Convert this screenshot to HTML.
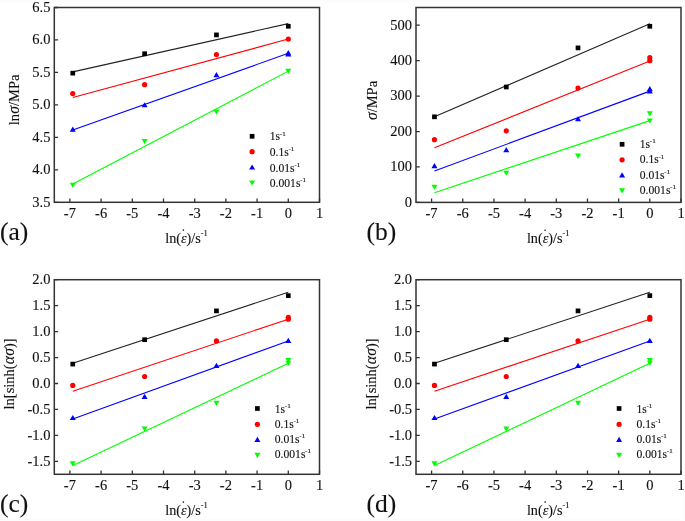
<!DOCTYPE html>
<html><head><meta charset="utf-8"><style>
html,body{margin:0;padding:0;background:#fff;}
svg{display:block;}
text{font-family:"Liberation Serif", serif;fill:#111;stroke:#111;stroke-width:0.12px;}
.t{font-size:14.5px;}
.l{font-size:11.6px;}
.sup{font-size:7px;}
.sup2{font-size:8.5px;}
.x{font-size:14.2px;}
.p{font-size:25.5px;}
.gk{font-style:italic;font-size:15.8px;}
</style></head><body>
<svg width="685" height="521" viewBox="0 0 685 521">
<rect width="685" height="521" fill="#fff"/>
<rect width="685" height="2" fill="#fcfcfc"/><rect y="519" width="685" height="2" fill="#fcfcfc"/><rect x="683" width="2" height="521" fill="#fcfcfc"/>
<line x1="72.77" y1="71.91" x2="288.3" y2="23.6" stroke="#222" stroke-width="1.1"/>
<line x1="72.77" y1="97.43" x2="288.3" y2="39.06" stroke="#ff0000" stroke-width="1.1"/>
<line x1="72.77" y1="129.9" x2="288.3" y2="53.34" stroke="#0000ff" stroke-width="1.1"/>
<line x1="72.77" y1="183.99" x2="288.3" y2="71.13" stroke="#00ff00" stroke-width="1.1"/>
<rect x="70.42" y="70.8" width="4.7" height="4.7" fill="#000000"/>
<rect x="142.27" y="51.38" width="4.7" height="4.7" fill="#000000"/>
<rect x="214.1" y="32.55" width="4.7" height="4.7" fill="#000000"/>
<rect x="285.95" y="23.92" width="4.7" height="4.7" fill="#000000"/>
<circle cx="72.77" cy="93.6" r="2.6" fill="#ff0000"/>
<circle cx="144.62" cy="84.71" r="2.6" fill="#ff0000"/>
<circle cx="216.45" cy="54.58" r="2.6" fill="#ff0000"/>
<circle cx="288.3" cy="39.06" r="2.6" fill="#ff0000"/>
<polygon points="72.77,126.46 75.77,131.66 69.77,131.66" fill="#0000ff"/>
<polygon points="144.62,102.17 147.62,107.37 141.62,107.37" fill="#0000ff"/>
<polygon points="216.45,72.04 219.45,77.24 213.45,77.24" fill="#0000ff"/>
<polygon points="288.3,49.96 291.3,55.16 285.3,55.16" fill="#0000ff"/>
<polygon points="288.3,51.33 291.3,56.53 285.3,56.53" fill="#0000ff"/>
<polygon points="69.77,182.82 75.77,182.82 72.77,188.02" fill="#00ff00"/>
<polygon points="141.62,139.12 147.62,139.12 144.62,144.32" fill="#00ff00"/>
<polygon points="213.45,109.44 219.45,109.44 216.45,114.64" fill="#00ff00"/>
<polygon points="285.3,68.86 291.3,68.86 288.3,74.06" fill="#00ff00"/>
<rect x="54.3" y="7.5" width="265.2" height="194.8" fill="none" stroke="#333" stroke-width="1.5"/>
<path d="M69.9 202.3V198.5M101.1 202.3V198.5M132.3 202.3V198.5M163.5 202.3V198.5M194.7 202.3V198.5M225.9 202.3V198.5M257.1 202.3V198.5M288.3 202.3V198.5M319.5 202.3V198.5M54.3 202.3H58.1M54.3 169.83H58.1M54.3 137.37H58.1M54.3 104.9H58.1M54.3 72.43H58.1M54.3 39.97H58.1M54.3 7.5H58.1" stroke="#333" stroke-width="1.3" fill="none"/>
<text x="69.9" y="217.7" text-anchor="middle" class="t">-7</text>
<text x="101.1" y="217.7" text-anchor="middle" class="t">-6</text>
<text x="132.3" y="217.7" text-anchor="middle" class="t">-5</text>
<text x="163.5" y="217.7" text-anchor="middle" class="t">-4</text>
<text x="194.7" y="217.7" text-anchor="middle" class="t">-3</text>
<text x="225.9" y="217.7" text-anchor="middle" class="t">-2</text>
<text x="257.1" y="217.7" text-anchor="middle" class="t">-1</text>
<text x="288.3" y="217.7" text-anchor="middle" class="t">0</text>
<text x="319.5" y="217.7" text-anchor="middle" class="t">1</text>
<text x="50.4" y="206.7" text-anchor="end" class="t">3.5</text>
<text x="50.4" y="174.23" text-anchor="end" class="t">4.0</text>
<text x="50.4" y="141.77" text-anchor="end" class="t">4.5</text>
<text x="50.4" y="109.3" text-anchor="end" class="t">5.0</text>
<text x="50.4" y="76.83" text-anchor="end" class="t">5.5</text>
<text x="50.4" y="44.37" text-anchor="end" class="t">6.0</text>
<text x="50.4" y="11.9" text-anchor="end" class="t">6.5</text>
<rect x="249.75" y="133.95" width="4.7" height="4.7" fill="#000000"/>
<text x="269.8" y="140.4" class="l">1s<tspan class="sup" dx="-0.3" dy="-4.8">-1</tspan></text>
<circle cx="252.1" cy="151.7" r="2.6" fill="#ff0000"/>
<text x="269.8" y="156" class="l">0.1s<tspan class="sup" dx="-0.3" dy="-4.8">-1</tspan></text>
<polygon points="252.1,164.4 255.1,169.6 249.1,169.6" fill="#0000ff"/>
<text x="269.8" y="171.7" class="l">0.01s<tspan class="sup" dx="-0.3" dy="-4.8">-1</tspan></text>
<polygon points="249.1,180.4 255.1,180.4 252.1,185.6" fill="#00ff00"/>
<text x="269.8" y="186.5" class="l">0.001s<tspan class="sup" dx="-0.3" dy="-4.8">-1</tspan></text>
<text x="165.2" y="242.5" class="x">ln(<tspan font-style="italic">ε</tspan>)/s<tspan class="sup2" dy="-6.3">-1</tspan></text>
<circle cx="183.4" cy="230.1" r="0.8" fill="#111"/>
<text x="0" y="239.9" class="p">(a)</text>
<line x1="434.46" y1="116.82" x2="649.82" y2="23.8" stroke="#222" stroke-width="1.1"/>
<line x1="434.46" y1="147.83" x2="649.82" y2="61.01" stroke="#ff0000" stroke-width="1.1"/>
<line x1="434.46" y1="170.97" x2="649.82" y2="91.13" stroke="#0000ff" stroke-width="1.1"/>
<line x1="434.46" y1="192.69" x2="649.82" y2="120.61" stroke="#00ff00" stroke-width="1.1"/>
<rect x="432.11" y="114.47" width="4.7" height="4.7" fill="#000000"/>
<rect x="503.91" y="84.63" width="4.7" height="4.7" fill="#000000"/>
<rect x="575.67" y="45.55" width="4.7" height="4.7" fill="#000000"/>
<rect x="647.47" y="23.93" width="4.7" height="4.7" fill="#000000"/>
<circle cx="434.46" cy="139.68" r="2.6" fill="#ff0000"/>
<circle cx="506.26" cy="130.82" r="2.6" fill="#ff0000"/>
<circle cx="578.02" cy="88.08" r="2.6" fill="#ff0000"/>
<circle cx="649.82" cy="57.57" r="2.6" fill="#ff0000"/>
<circle cx="649.82" cy="60.65" r="2.6" fill="#ff0000"/>
<polygon points="434.46,162.95 437.46,168.15 431.46,168.15" fill="#0000ff"/>
<polygon points="506.26,147 509.26,152.2 503.26,152.2" fill="#0000ff"/>
<polygon points="578.02,116.17 581.02,121.37 575.02,121.37" fill="#0000ff"/>
<polygon points="649.82,86.05 652.82,91.25 646.82,91.25" fill="#0000ff"/>
<polygon points="649.82,88.28 652.82,93.48 646.82,93.48" fill="#0000ff"/>
<polygon points="431.46,184.7 437.46,184.7 434.46,189.9" fill="#00ff00"/>
<polygon points="503.26,170.64 509.26,170.64 506.26,175.84" fill="#00ff00"/>
<polygon points="575.02,153.56 581.02,153.56 578.02,158.76" fill="#00ff00"/>
<polygon points="646.82,111.21 652.82,111.21 649.82,116.41" fill="#00ff00"/>
<polygon points="646.82,118.44 652.82,118.44 649.82,123.64" fill="#00ff00"/>
<rect x="416" y="7.5" width="265" height="194.9" fill="none" stroke="#333" stroke-width="1.5"/>
<path d="M431.59 202.4V198.6M462.76 202.4V198.6M493.94 202.4V198.6M525.12 202.4V198.6M556.29 202.4V198.6M587.47 202.4V198.6M618.65 202.4V198.6M649.82 202.4V198.6M681 202.4V198.6M416 202.4H419.8M416 166.96H419.8M416 131.53H419.8M416 96.09H419.8M416 60.65H419.8M416 25.22H419.8" stroke="#333" stroke-width="1.3" fill="none"/>
<text x="431.59" y="217.8" text-anchor="middle" class="t">-7</text>
<text x="462.76" y="217.8" text-anchor="middle" class="t">-6</text>
<text x="493.94" y="217.8" text-anchor="middle" class="t">-5</text>
<text x="525.12" y="217.8" text-anchor="middle" class="t">-4</text>
<text x="556.29" y="217.8" text-anchor="middle" class="t">-3</text>
<text x="587.47" y="217.8" text-anchor="middle" class="t">-2</text>
<text x="618.65" y="217.8" text-anchor="middle" class="t">-1</text>
<text x="649.82" y="217.8" text-anchor="middle" class="t">0</text>
<text x="681" y="217.8" text-anchor="middle" class="t">1</text>
<text x="412.1" y="206.8" text-anchor="end" class="t">0</text>
<text x="412.1" y="171.36" text-anchor="end" class="t">100</text>
<text x="412.1" y="135.93" text-anchor="end" class="t">200</text>
<text x="412.1" y="100.49" text-anchor="end" class="t">300</text>
<text x="412.1" y="65.05" text-anchor="end" class="t">400</text>
<text x="412.1" y="29.62" text-anchor="end" class="t">500</text>
<rect x="619.75" y="141.95" width="4.7" height="4.7" fill="#000000"/>
<text x="639.8" y="148.1" class="l">1s<tspan class="sup" dx="-0.3" dy="-4.8">-1</tspan></text>
<circle cx="622.1" cy="159.8" r="2.6" fill="#ff0000"/>
<text x="639.8" y="163.3" class="l">0.1s<tspan class="sup" dx="-0.3" dy="-4.8">-1</tspan></text>
<polygon points="622.1,172.2 625.1,177.4 619.1,177.4" fill="#0000ff"/>
<text x="639.8" y="179" class="l">0.01s<tspan class="sup" dx="-0.3" dy="-4.8">-1</tspan></text>
<polygon points="619.1,188.3 625.1,188.3 622.1,193.5" fill="#00ff00"/>
<text x="639.8" y="193.8" class="l">0.001s<tspan class="sup" dx="-0.3" dy="-4.8">-1</tspan></text>
<text x="526.9" y="242.6" class="x">ln(<tspan font-style="italic">ε</tspan>)/s<tspan class="sup2" dy="-6.3">-1</tspan></text>
<circle cx="545.1" cy="230.2" r="0.8" fill="#111"/>
<text x="366.4" y="239.6" class="p">(b)</text>
<line x1="72.77" y1="363.3" x2="288.3" y2="292.21" stroke="#222" stroke-width="1.1"/>
<line x1="72.77" y1="391.17" x2="288.3" y2="319.19" stroke="#ff0000" stroke-width="1.1"/>
<line x1="72.77" y1="418.98" x2="288.3" y2="340.93" stroke="#0000ff" stroke-width="1.1"/>
<line x1="72.77" y1="465.48" x2="288.3" y2="363.3" stroke="#00ff00" stroke-width="1.1"/>
<rect x="70.42" y="361.73" width="4.7" height="4.7" fill="#000000"/>
<rect x="142.27" y="337.34" width="4.7" height="4.7" fill="#000000"/>
<rect x="214.1" y="308.54" width="4.7" height="4.7" fill="#000000"/>
<rect x="285.95" y="293.28" width="4.7" height="4.7" fill="#000000"/>
<circle cx="72.77" cy="385.41" r="2.6" fill="#ff0000"/>
<circle cx="144.62" cy="376.48" r="2.6" fill="#ff0000"/>
<circle cx="216.45" cy="340.93" r="2.6" fill="#ff0000"/>
<circle cx="288.3" cy="317.32" r="2.6" fill="#ff0000"/>
<circle cx="288.3" cy="319.19" r="2.6" fill="#ff0000"/>
<polygon points="72.77,414.88 75.77,420.08 69.77,420.08" fill="#0000ff"/>
<polygon points="144.62,393.7 147.62,398.9 141.62,398.9" fill="#0000ff"/>
<polygon points="216.45,362.72 219.45,367.92 213.45,367.92" fill="#0000ff"/>
<polygon points="288.3,337.82 291.3,343.02 285.3,343.02" fill="#0000ff"/>
<polygon points="69.77,461.32 75.77,461.32 72.77,466.52" fill="#00ff00"/>
<polygon points="141.62,426.45 147.62,426.45 144.62,431.65" fill="#00ff00"/>
<polygon points="213.45,400.76 219.45,400.76 216.45,405.96" fill="#00ff00"/>
<polygon points="285.3,358 291.3,358 288.3,363.2" fill="#00ff00"/>
<polygon points="285.3,360.7 291.3,360.7 288.3,365.9" fill="#00ff00"/>
<rect x="54.3" y="279.7" width="265.2" height="194.6" fill="none" stroke="#333" stroke-width="1.5"/>
<path d="M69.9 474.3V470.5M101.1 474.3V470.5M132.3 474.3V470.5M163.5 474.3V470.5M194.7 474.3V470.5M225.9 474.3V470.5M257.1 474.3V470.5M288.3 474.3V470.5M319.5 474.3V470.5M54.3 461.33H58.1M54.3 435.38H58.1M54.3 409.43H58.1M54.3 383.49H58.1M54.3 357.54H58.1M54.3 331.59H58.1M54.3 305.65H58.1M54.3 279.7H58.1" stroke="#333" stroke-width="1.3" fill="none"/>
<text x="69.9" y="489.7" text-anchor="middle" class="t">-7</text>
<text x="101.1" y="489.7" text-anchor="middle" class="t">-6</text>
<text x="132.3" y="489.7" text-anchor="middle" class="t">-5</text>
<text x="163.5" y="489.7" text-anchor="middle" class="t">-4</text>
<text x="194.7" y="489.7" text-anchor="middle" class="t">-3</text>
<text x="225.9" y="489.7" text-anchor="middle" class="t">-2</text>
<text x="257.1" y="489.7" text-anchor="middle" class="t">-1</text>
<text x="288.3" y="489.7" text-anchor="middle" class="t">0</text>
<text x="319.5" y="489.7" text-anchor="middle" class="t">1</text>
<text x="50.4" y="465.73" text-anchor="end" class="t">-1.5</text>
<text x="50.4" y="439.78" text-anchor="end" class="t">-1.0</text>
<text x="50.4" y="413.83" text-anchor="end" class="t">-0.5</text>
<text x="50.4" y="387.89" text-anchor="end" class="t">0.0</text>
<text x="50.4" y="361.94" text-anchor="end" class="t">0.5</text>
<text x="50.4" y="335.99" text-anchor="end" class="t">1.0</text>
<text x="50.4" y="310.05" text-anchor="end" class="t">1.5</text>
<text x="50.4" y="284.1" text-anchor="end" class="t">2.0</text>
<rect x="255.05" y="406.15" width="4.7" height="4.7" fill="#000000"/>
<text x="274.8" y="412.5" class="l">1s<tspan class="sup" dx="-0.3" dy="-4.8">-1</tspan></text>
<circle cx="257.4" cy="424.3" r="2.6" fill="#ff0000"/>
<text x="274.8" y="427.9" class="l">0.1s<tspan class="sup" dx="-0.3" dy="-4.8">-1</tspan></text>
<polygon points="257.4,436.7 260.4,441.9 254.4,441.9" fill="#0000ff"/>
<text x="274.8" y="443.1" class="l">0.01s<tspan class="sup" dx="-0.3" dy="-4.8">-1</tspan></text>
<polygon points="254.4,452.7 260.4,452.7 257.4,457.9" fill="#00ff00"/>
<text x="274.8" y="458.1" class="l">0.001s<tspan class="sup" dx="-0.3" dy="-4.8">-1</tspan></text>
<text x="165.2" y="514.5" class="x">ln(<tspan font-style="italic">ε</tspan>)/s<tspan class="sup2" dy="-6.3">-1</tspan></text>
<circle cx="183.4" cy="502.1" r="0.8" fill="#111"/>
<text x="0" y="512.4" class="p">(c)</text>
<line x1="434.46" y1="363.3" x2="649.82" y2="292.21" stroke="#222" stroke-width="1.1"/>
<line x1="434.46" y1="391.17" x2="649.82" y2="319.19" stroke="#ff0000" stroke-width="1.1"/>
<line x1="434.46" y1="418.98" x2="649.82" y2="340.93" stroke="#0000ff" stroke-width="1.1"/>
<line x1="434.46" y1="465.48" x2="649.82" y2="363.3" stroke="#00ff00" stroke-width="1.1"/>
<rect x="432.11" y="361.73" width="4.7" height="4.7" fill="#000000"/>
<rect x="503.91" y="337.34" width="4.7" height="4.7" fill="#000000"/>
<rect x="575.67" y="308.54" width="4.7" height="4.7" fill="#000000"/>
<rect x="647.47" y="293.28" width="4.7" height="4.7" fill="#000000"/>
<circle cx="434.46" cy="385.41" r="2.6" fill="#ff0000"/>
<circle cx="506.26" cy="376.48" r="2.6" fill="#ff0000"/>
<circle cx="578.02" cy="340.93" r="2.6" fill="#ff0000"/>
<circle cx="649.82" cy="317.32" r="2.6" fill="#ff0000"/>
<circle cx="649.82" cy="319.19" r="2.6" fill="#ff0000"/>
<polygon points="434.46,414.88 437.46,420.08 431.46,420.08" fill="#0000ff"/>
<polygon points="506.26,393.7 509.26,398.9 503.26,398.9" fill="#0000ff"/>
<polygon points="578.02,362.72 581.02,367.92 575.02,367.92" fill="#0000ff"/>
<polygon points="649.82,337.82 652.82,343.02 646.82,343.02" fill="#0000ff"/>
<polygon points="431.46,461.32 437.46,461.32 434.46,466.52" fill="#00ff00"/>
<polygon points="503.26,426.45 509.26,426.45 506.26,431.65" fill="#00ff00"/>
<polygon points="575.02,400.76 581.02,400.76 578.02,405.96" fill="#00ff00"/>
<polygon points="646.82,358 652.82,358 649.82,363.2" fill="#00ff00"/>
<polygon points="646.82,360.7 652.82,360.7 649.82,365.9" fill="#00ff00"/>
<rect x="416" y="279.7" width="265" height="194.6" fill="none" stroke="#333" stroke-width="1.5"/>
<path d="M431.59 474.3V470.5M462.76 474.3V470.5M493.94 474.3V470.5M525.12 474.3V470.5M556.29 474.3V470.5M587.47 474.3V470.5M618.65 474.3V470.5M649.82 474.3V470.5M681 474.3V470.5M416 461.33H419.8M416 435.38H419.8M416 409.43H419.8M416 383.49H419.8M416 357.54H419.8M416 331.59H419.8M416 305.65H419.8M416 279.7H419.8" stroke="#333" stroke-width="1.3" fill="none"/>
<text x="431.59" y="489.7" text-anchor="middle" class="t">-7</text>
<text x="462.76" y="489.7" text-anchor="middle" class="t">-6</text>
<text x="493.94" y="489.7" text-anchor="middle" class="t">-5</text>
<text x="525.12" y="489.7" text-anchor="middle" class="t">-4</text>
<text x="556.29" y="489.7" text-anchor="middle" class="t">-3</text>
<text x="587.47" y="489.7" text-anchor="middle" class="t">-2</text>
<text x="618.65" y="489.7" text-anchor="middle" class="t">-1</text>
<text x="649.82" y="489.7" text-anchor="middle" class="t">0</text>
<text x="681" y="489.7" text-anchor="middle" class="t">1</text>
<text x="412.1" y="465.73" text-anchor="end" class="t">-1.5</text>
<text x="412.1" y="439.78" text-anchor="end" class="t">-1.0</text>
<text x="412.1" y="413.83" text-anchor="end" class="t">-0.5</text>
<text x="412.1" y="387.89" text-anchor="end" class="t">0.0</text>
<text x="412.1" y="361.94" text-anchor="end" class="t">0.5</text>
<text x="412.1" y="335.99" text-anchor="end" class="t">1.0</text>
<text x="412.1" y="310.05" text-anchor="end" class="t">1.5</text>
<text x="412.1" y="284.1" text-anchor="end" class="t">2.0</text>
<rect x="616.75" y="406.15" width="4.7" height="4.7" fill="#000000"/>
<text x="636.5" y="412.5" class="l">1s<tspan class="sup" dx="-0.3" dy="-4.8">-1</tspan></text>
<circle cx="619.1" cy="424.3" r="2.6" fill="#ff0000"/>
<text x="636.5" y="427.9" class="l">0.1s<tspan class="sup" dx="-0.3" dy="-4.8">-1</tspan></text>
<polygon points="619.1,436.7 622.1,441.9 616.1,441.9" fill="#0000ff"/>
<text x="636.5" y="443.1" class="l">0.01s<tspan class="sup" dx="-0.3" dy="-4.8">-1</tspan></text>
<polygon points="616.1,452.7 622.1,452.7 619.1,457.9" fill="#00ff00"/>
<text x="636.5" y="458.1" class="l">0.001s<tspan class="sup" dx="-0.3" dy="-4.8">-1</tspan></text>
<text x="526.9" y="514.5" class="x">ln(<tspan font-style="italic">ε</tspan>)/s<tspan class="sup2" dy="-6.3">-1</tspan></text>
<circle cx="545.1" cy="502.1" r="0.8" fill="#111"/>
<text x="366.4" y="512.4" class="p">(d)</text>
<text transform="translate(18.9 99.9) rotate(-90)" text-anchor="middle" class="t">ln<tspan class="gk" dx="0.2">σ</tspan>/MPa</text>
<text transform="translate(377 100.5) rotate(-90)" text-anchor="middle" class="t"><tspan class="gk">σ</tspan>/MPa</text>
<text transform="translate(14 373.9) rotate(-90)" text-anchor="middle" class="t">ln[sinh(<tspan class="gk" dx="0.2">ασ</tspan>)]</text>
<text transform="translate(375.7 373.9) rotate(-90)" text-anchor="middle" class="t">ln[sinh(<tspan class="gk" dx="0.2">ασ</tspan>)]</text>
</svg>
</body></html>
